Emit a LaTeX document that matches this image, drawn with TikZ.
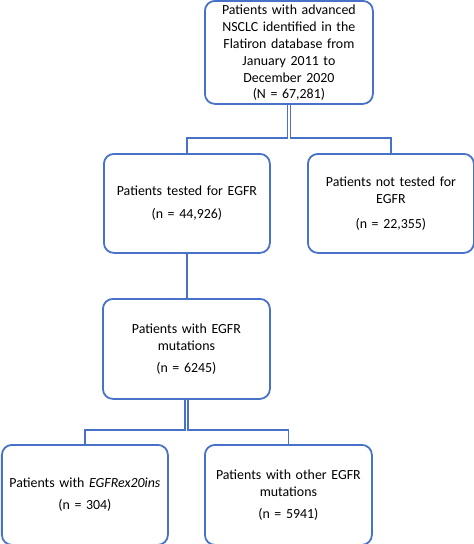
\documentclass[tikz,border=0pt]{standalone}
\usepackage{fontspec}
\setmainfont{Carlito}
\definecolor{boxblue}{RGB}{72,114,200}
\tikzset{
  fbox/.style={draw=boxblue, line width=1.8pt, rounded corners=10pt, fill=white,
    anchor=north west, inner sep=0pt, align=center,
    font=\fontsize{13.9}{16.5}\selectfont, text=black},
  conn/.style={draw=boxblue, line width=1.5pt}
}
\begin{document}
\begin{tikzpicture}[x=1pt,y=-1pt]
\useasboundingbox (0,0) rectangle (474,544);
\node[fbox, minimum width=168pt, minimum height=103pt, text width=166pt] (top) at (204,0)
  {Patients with advanced\\[0.5pt]NSCLC identified in the\\[0.5pt]Flatiron database from\\[0.5pt]January 2011 to\\[0.5pt]December 2020\\(N = 67,281)};
\node[fbox, minimum width=166pt, minimum height=99pt, text width=164pt] (tested) at (103,153)
  {Patients tested for EGFR\\[6.5pt](n = 44,926)};
\node[fbox, minimum width=166pt, minimum height=99pt, text width=164pt] (nottested) at (307,153)
  {Patients not tested for\\EGFR\\[8.5pt](n = 22,355)};
\node[fbox, minimum width=167pt, minimum height=100pt, text width=164pt] (mut) at (102,298)
  {Patients with EGFR\\mutations\\[5.5pt](n = 6245)};
\node[fbox, minimum width=166pt, minimum height=100pt, text width=164pt] (ex20) at (1,444)
  {Patients with \textit{EGFRex20ins}\\[5.5pt](n = 304)};
\node[fbox, minimum width=167pt, minimum height=100pt, text width=164pt] (other) at (204,444)
  {Patients with other EGFR\\mutations\\[5.5pt](n = 5941)};
% junction levels
\coordinate (j1) at (0,138);
\coordinate (j2) at (0,430);
\coordinate (topL) at ([xshift=-1.6pt]top.south);
\coordinate (topR) at ([xshift=1.6pt]top.south);
\coordinate (mutL) at ([xshift=-1.6pt]mut.south);
\coordinate (mutR) at ([xshift=1.6pt]mut.south);
\draw[conn] (topL) -- (topL |- j1) -| (tested.north);
\draw[conn] (topR) -- (topR |- j1) -| (nottested.north);
\draw[conn] (tested.south) -- (tested.south |- mut.north);
\draw[conn] (mutL) -- (mutL |- j2) -| (ex20.north);
\draw[conn] (mutR) -- (mutR |- j2) -| (other.north);
\end{tikzpicture}
\end{document}
